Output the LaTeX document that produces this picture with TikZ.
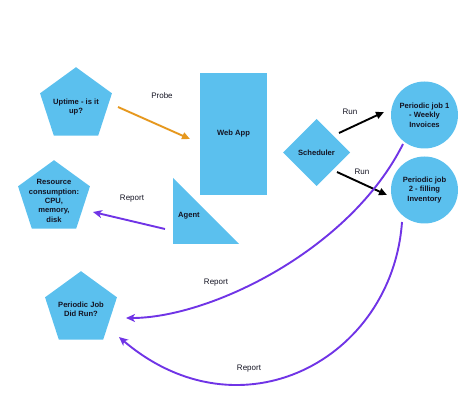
\documentclass[tikz,border=0pt]{standalone}
\usepackage{fontspec}
\setmainfont{Liberation Sans}
\usetikzlibrary{shapes.geometric,arrows.meta}
\definecolor{fillblue}{RGB}{91,192,238}
\definecolor{orangeA}{RGB}{230,152,30}
\definecolor{purpleA}{RGB}{112,52,230}
\definecolor{txt}{RGB}{20,20,35}
\begin{document}
\begin{tikzpicture}[x=1pt,y=-1pt,
  shapebase/.style={fill=fillblue,draw=none,inner sep=0pt,outer sep=0pt},
  pent/.style={shapebase,regular polygon,regular polygon sides=5,minimum size=75.6pt},
  lbl/.style={text=txt,align=center,font=\fontsize{7.6}{9.3}\selectfont\bfseries,inner sep=0pt},
  edgelbl/.style={text=txt,font=\fontsize{8}{10}\selectfont,inner sep=0pt},
  job/.style={shapebase,circle,minimum size=67pt},
  conn/.style={line width=1.9pt,-{Triangle[length=8pt,width=7pt]}},
  rep/.style={line width=1.9pt,purpleA,-{Stealth[length=9pt,width=8pt,inset=2.5pt]}},
]
\useasboundingbox (0,0) rectangle (474,406);
% shapes
\node[pent] (up) at (76,105) {};
\node[lbl] (uptxt) at (76,107) {Uptime - is it\\up?};
\node[pent] (res) at (54,198) {};
\node[lbl] (restxt) at (54,201) {Resource\\consumption:\\CPU,\\memory,\\disk};
\node[pent] (pjr) at (81,309) {};
\node[lbl] (pjrtxt) at (81,309) {Periodic Job\\Did Run?};
\node[shapebase,rectangle,minimum width=67pt,minimum height=122pt] (web) at (233.5,134) {};
\node[lbl] (webtxt) at (233.5,134) {Web App};
\fill[fillblue] (173,178) -- (173,244) -- (239,244) -- cycle;
\node[lbl] (agent) at (189,216) {Agent};
\node[shapebase,diamond,minimum width=67pt,minimum height=67pt] (sch) at (316.5,152.5) {};
\node[lbl] (schtxt) at (316.5,152.5) {Scheduler};
\node[job] (j1) at (424.5,115) {};
\node[lbl] (j1txt) at (424.5,115) {Periodic job 1\\- Weekly\\Invoices};
\node[job] (j2) at (424.5,190) {};
\node[lbl] (j2txt) at (424.5,190) {Periodic job\\2 - filling\\Inventory};
% connector ends
\coordinate (probeS) at (118,107);
\coordinate (probeE) at (190,139);
\coordinate (agS) at (165,229);
\coordinate (agE) at (93,212);
\coordinate (r1S) at (339,133);
\coordinate (r1E) at (384,112);
\coordinate (r2S) at (337,172);
\coordinate (r2E) at (387,195);
\coordinate (c1S) at (403,144);
\coordinate (c1E) at (126,318);
\coordinate (c2S) at (402,222);
\coordinate (c2E) at (119,337);
% connectors
\draw[conn,orangeA] (probeS) -- (probeE);
\draw[rep] (agS) -- (agE);
\draw[conn,black] (r1S) -- (r1E);
\draw[conn,black] (r2S) -- (r2E);
\draw[rep] (c1S) .. controls (350,250) and (210,318) .. (c1E);
\draw[rep] (c2S) .. controls (392,360) and (240,440) .. (c2E);
% labels
\node[edgelbl] (lprobe) at (162,96) {Probe};
\node[edgelbl] (lrep0) at (132,199) {Report};
\node[edgelbl] (lrun1) at (350,112) {Run};
\node[edgelbl] (lrun2) at (362,172) {Run};
\node[edgelbl] (lrep1) at (216,283) {Report};
\node[edgelbl] (lrep2) at (249,369) {Report};
\end{tikzpicture}
\end{document}
